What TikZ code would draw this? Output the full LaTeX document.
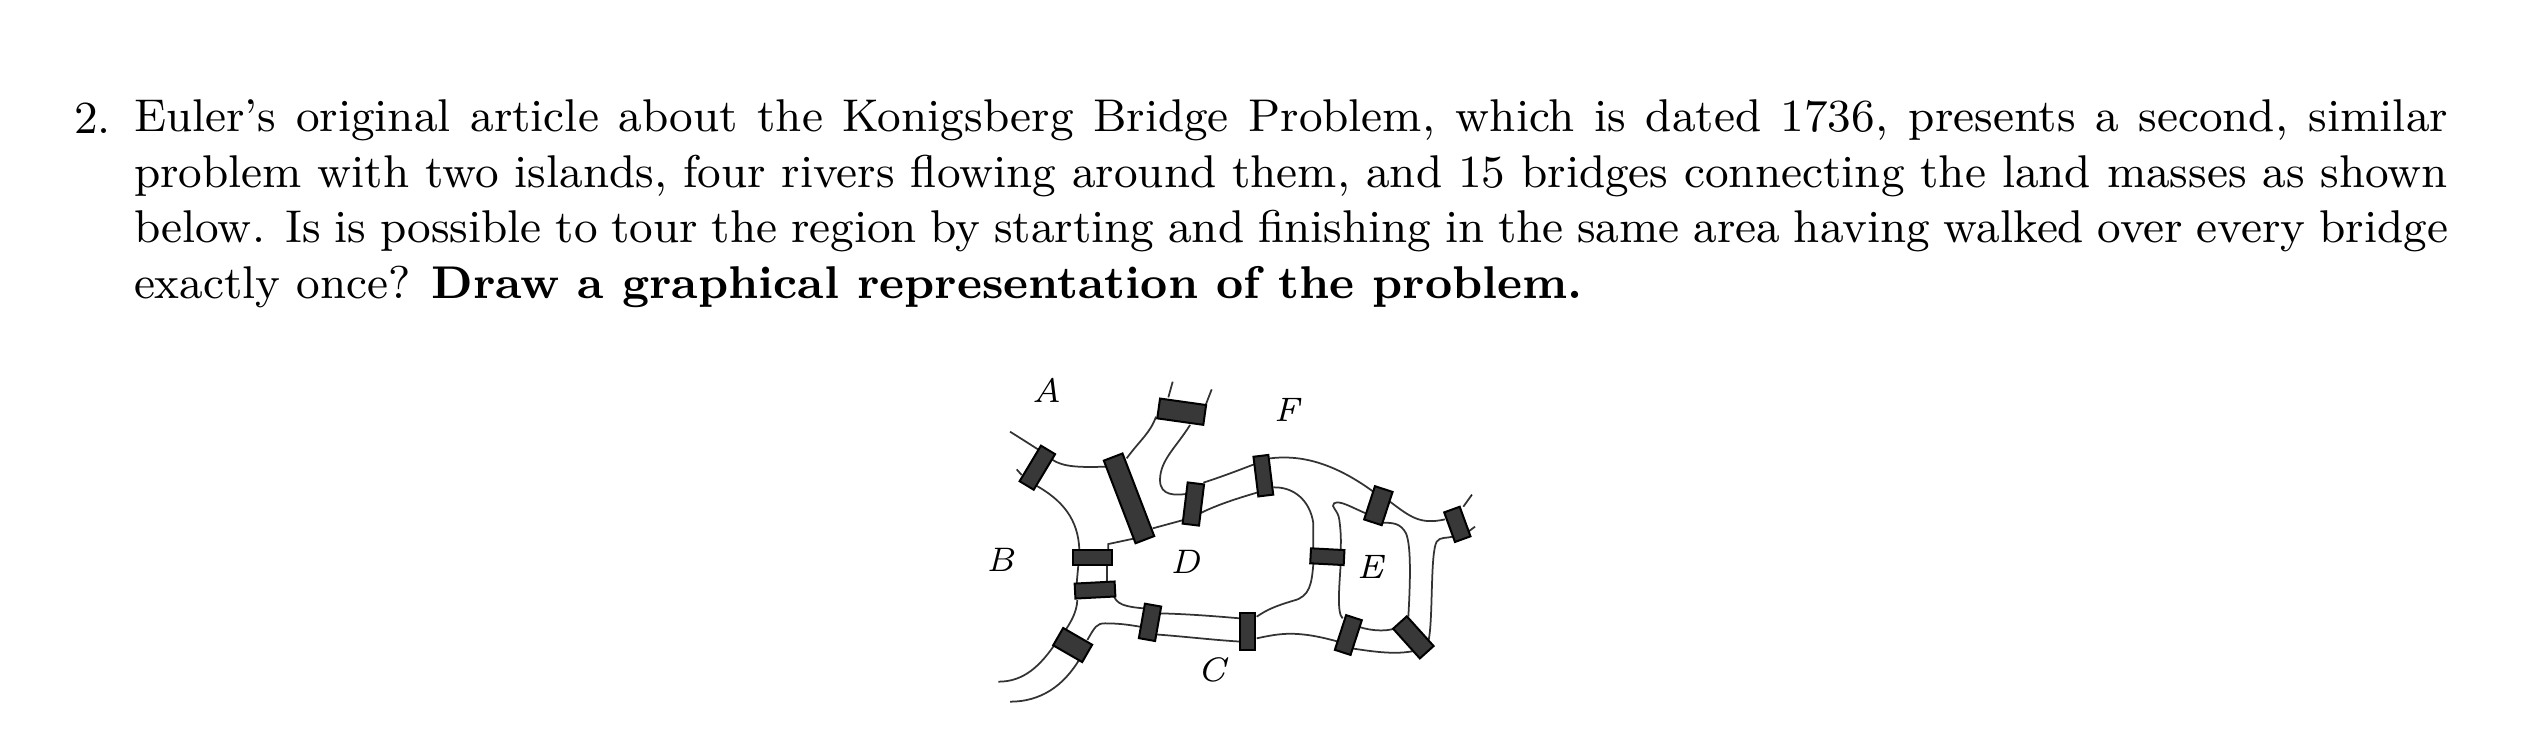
\documentclass[tikz,border=0pt]{standalone}
\begin{document}
\begin{tikzpicture}[x=0.2pt,y=-0.2pt,
  brd/.style={draw=black,fill=black!78,line width=0.4pt,inner sep=0pt},
  riv/.style={draw=black!80,line width=0.35pt},
  lab/.style={font=\fontsize{6.8}{8}\selectfont\itshape},
  para/.style={font=\fontsize{9.18}{11.1}\selectfont,inner sep=0pt}]
\useasboundingbox (0,0) rectangle (2528,752);
\node[para,anchor=base west] (num) at (73,133) {2.};
\node[para,anchor=north west,align=justify,text width=462.8pt] (txt) at (133,99)
{Euler's original article about the Konigsberg Bridge Problem, which is dated 1736, presents a second, similar problem with two islands, four rivers flowing around them, and 15 bridges connecting the land masses as shown below. Is is possible to tour the region by starting and finishing in the same area having walked over every bridge exactly once? \textbf{Draw a graphical representation of the problem.}};
\begin{scope}[shift={(980,360)},scale=1/3]
% rivers
\draw[riv] (90,215) .. controls (130,240) .. (180,272);
\draw[riv] (215,298) .. controls (250,322) and (300,322) .. (378,320);
\draw[riv] (440,295) .. controls (480,240) and (510,220) .. (528,170);
\draw[riv] (565,112) -- (578,65);
\draw[riv] (675,140) -- (695,88);
\draw[riv] (110,328) -- (125,345);
\draw[riv] (160,372) .. controls (250,420) and (295,480) .. (298,570);
\draw[riv] (295,615) -- (290,670);
\draw[riv] (292,720) .. controls (290,760) and (270,790) .. (250,820);
\draw[riv] (230,845) .. controls (180,920) and (130,965) .. (55,965);
\draw[riv] (300,895) .. controls (250,980) and (180,1025) .. (90,1025);
\draw[riv] (380,615) -- (380,665);
% island D
\draw[riv] (385,575) -- (385,552) -- (465,535);
\draw[riv] (518,505) -- (610,480);
\draw[riv] (660,460) .. controls (720,430) and (790,410) .. (840,395);
\draw[riv] (880,382) .. controls (940,380) and (990,420) .. (1000,490) -- (1000,570);
\draw[riv] (1000,612) .. controls (995,670) and (990,710) .. (940,722) .. controls (880,740) and (860,750) .. (830,770);
\draw[riv] (780,775) .. controls (700,768) and (620,762) .. (540,760);
\draw[riv] (490,745) .. controls (440,740) and (405,735) .. (400,700);
% outer lower river
\draw[riv] (322,840) .. controls (345,800) and (350,790) .. (375,790) .. controls (420,790) and (450,795) .. (480,800);
\draw[riv] (525,823) .. controls (620,830) and (700,840) .. (785,845);
\draw[riv] (830,835) .. controls (900,820) and (950,810) .. (1075,845);
\draw[riv] (1115,865) .. controls (1180,875) and (1250,885) .. (1305,872);
\draw[riv] (1345,845) .. controls (1360,780) and (1350,580) .. (1370,545) .. controls (1380,530) and (1400,535) .. (1418,530);
% F river top
\draw[riv] (630,195) .. controls (590,260) and (540,300) .. (540,360) .. controls (540,410) and (590,405) .. (618,402);
\draw[riv] (670,368) .. controls (740,345) and (790,325) .. (830,310);
\draw[riv] (870,295) .. controls (950,285) and (1050,300) .. (1180,395);
\draw[riv] (1230,425) .. controls (1290,470) and (1320,495) .. (1395,478);
\draw[riv] (1450,440) -- (1475,405);
\fill (1475,405) circle (2.5);
\draw[riv] (1465,515) -- (1485,500);
% island E
\draw[riv] (1162,462) .. controls (1110,440) and (1080,420) .. (1062,430) .. controls (1050,440) and (1075,450) .. (1078,480) .. controls (1085,530) and (1082,560) .. (1082,570);
\draw[riv] (1082,612) .. controls (1078,680) and (1070,760) .. (1088,775);
\draw[riv] (1135,800) .. controls (1180,815) and (1230,815) .. (1258,800);
\draw[riv] (1285,770) .. controls (1290,680) and (1295,560) .. (1278,520) .. controls (1262,490) and (1240,488) .. (1208,488);
% bridges
\node[brd,minimum width=9.3pt,minimum height=4pt,rotate=-8] (b1) at (605,155) {};
\node[brd,minimum width=8.3pt,minimum height=3.3pt,rotate=59] (b2) at (172,323) {};
\node[brd,minimum width=17.7pt,minimum height=4pt,rotate=-69] (b3) at (447,415) {};
\node[brd,minimum width=8.3pt,minimum height=3.3pt,rotate=83] (b4) at (640,432) {};
\node[brd,minimum width=8pt,minimum height=3pt,rotate=97] (b5) at (850,347) {};
\node[brd,minimum width=7pt,minimum height=3.7pt,rotate=72] (b6) at (1195,437) {};
\node[brd,minimum width=6.3pt,minimum height=3.3pt,rotate=-70] (b7) at (1432,493) {};
\node[brd,minimum width=7.7pt,minimum height=3pt] (b8) at (337,593) {};
\node[brd,minimum width=8pt,minimum height=3pt,rotate=3] (b9) at (345,690) {};
\node[brd,minimum width=6.7pt,minimum height=4pt,rotate=-30] (b10) at (278,855) {};
\node[brd,minimum width=7pt,minimum height=3.3pt,rotate=80] (b11) at (510,787) {};
\node[brd,minimum width=7.3pt,minimum height=3pt,rotate=90] (b12) at (803,815) {};
\node[brd,minimum width=6.7pt,minimum height=3pt,rotate=-3] (b13) at (1042,590) {};
\node[brd,minimum width=7.3pt,minimum height=3.3pt,rotate=72] (b14) at (1105,825) {};
\node[brd,minimum width=8pt,minimum height=3.7pt,rotate=-48] (b15) at (1300,832) {};
% labels
\node[lab] (A) at (200,90) {A};
\node[lab] (F) at (920,150) {F};
\node[lab] (B) at (60,600) {B};
\node[lab] (D) at (615,605) {D};
\node[lab] (E) at (1170,620) {E};
\node[lab] (C) at (695,930) {C};
\end{scope}
\end{tikzpicture}
\end{document}
